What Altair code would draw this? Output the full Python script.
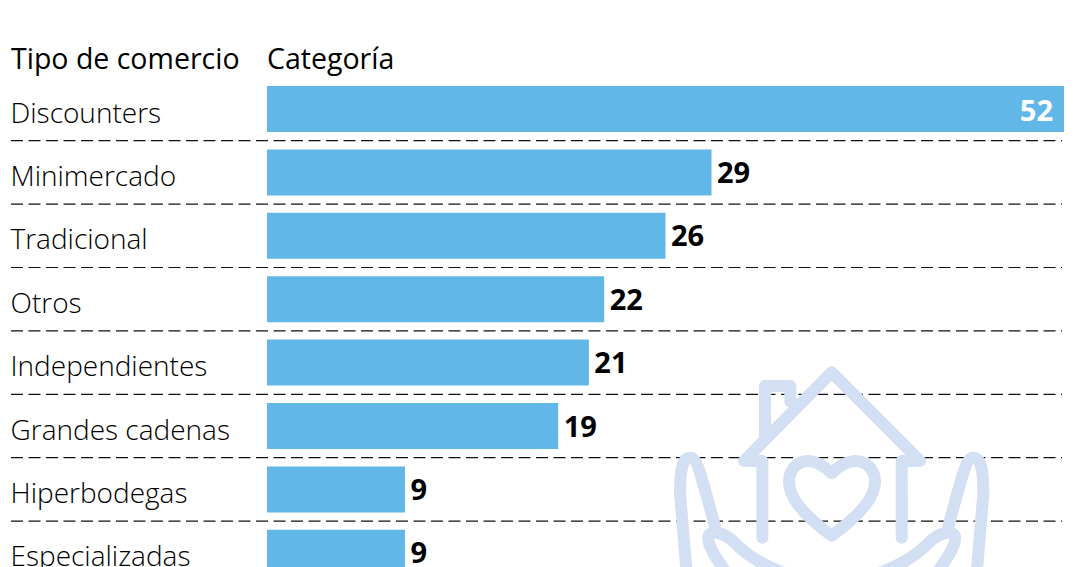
import altair as alt
import pandas as pd

tipos = ["Discounters", "Minimercado", "Tradicional", "Otros", "Independientes",
         "Grandes cadenas", "Hiperbodegas", "Especializadas"]
valores = [52, 29, 26, 22, 21, 19, 9, 9]
encabezados = ["Tipo de comercio", "Categoría"]

# icono de fondo (casa y manos)
icono = (
    "M-215,-57 L-263,-57 L0,-323 L265,-57 L210,-57 "
    "M-200,-120 L-200,-282 L-124,-282 L-124,-235 "
    "M-208,-57 L-208,173 M210,-57 L210,173 "
    "M0,-20 C-25,-45 -45,-57 -70,-57 C-105,-57 -128,-30 -128,5 "
    "C-128,60 -65,120 0,167 C65,120 130,60 130,5 "
    "C130,-30 105,-57 70,-57 C45,-57 25,-45 0,-20 Z "
    "M-435,280 L-455,40 C-455,-40 -445,-67 -425,-67 C-405,-67 -395,-30 -350,140 "
    "M-300,300 C-335,250 -375,200 -370,170 C-365,150 -330,155 -300,180 "
    "C-265,215 -235,240 -165,270 L-115,290 "
    "M300,300 C335,250 375,200 370,170 C365,150 330,155 300,180 "
    "C265,215 235,240 165,270 L115,290 "
    "M435,280 L455,40 C455,-40 445,-67 425,-67 C405,-67 395,-30 350,140"
)

df = pd.DataFrame({"tipo": tipos, "valor": valores})

alto_filas = 507.2
x_esc = alt.Scale(domain=[0, 52], range=[0, 797])
y_barras = alt.Scale(domain=tipos, range=[0, alto_filas], paddingInner=0.275, paddingOuter=0.1375)
y_filas = alt.Scale(domain=tipos, range=[0, alto_filas], paddingInner=0, paddingOuter=0)

barras = alt.Chart(df).mark_bar(color="#62b7e9", cornerRadius=0).encode(
    x=alt.X("valor:Q", scale=x_esc, axis=None),
    y=alt.Y(
        "tipo:N", scale=y_barras, sort=tipos, title=None,
        axis=alt.Axis(
            orient="left", domain=False, ticks=False, labelAlign="left",
            labelBaseline="alphabetic", labelPadding=257, labelOffset=13.5, labelLimit=0,
            labelFont="Open Sans", labelFontSize=28, labelFontWeight=300, labelColor="#000000",
        ),
    ),
)

lineas = alt.Chart(df.iloc[:7]).mark_rule(color="#111111", strokeWidth=1.2, strokeDash=[12, 5.5]).encode(
    x=alt.value(-256),
    x2=alt.value(795),
    y=alt.Y("tipo:N", scale=y_filas, bandPosition=1, axis=None),
)

fuente_num = dict(font="Open Sans", fontSize=29, fontWeight="bold", baseline="middle")

numeros = alt.Chart(df.iloc[1:]).mark_text(align="left", dx=5.5, dy=1.5, color="#000000", **fuente_num).encode(
    x=alt.X("valor:Q", scale=x_esc, axis=None),
    y=alt.Y("tipo:N", scale=y_barras, axis=None),
    text="valor:Q",
)

numero_top = alt.Chart(df.iloc[:1]).mark_text(align="right", dx=-11, dy=3, color="#ffffff", **fuente_num).encode(
    x=alt.X("valor:Q", scale=x_esc, axis=None),
    y=alt.Y("tipo:N", scale=y_barras, axis=None),
    text="valor:Q",
)

titulo_a = alt.Chart(pd.DataFrame({"t": encabezados[:1]})).mark_text(
    align="left", font="Open Sans", fontSize=28.5, color="#000000"
).encode(x=alt.value(-256), y=alt.value(-17.5), text="t:N")

titulo_b = alt.Chart(pd.DataFrame({"t": encabezados[1:]})).mark_text(
    align="left", font="Open Sans", fontSize=28.5, color="#000000"
).encode(x=alt.value(0), y=alt.value(-17.5), text="t:N")

marca = alt.Chart(pd.DataFrame({"a": [0]})).mark_point(
    shape=icono, size=4 / 9, filled=False, opacity=1, stroke="#d3dff2",
    strokeWidth=12, strokeCap="round", strokeJoin="round",
).encode(x=alt.value(564.7), y=alt.value(402.7))

chart = alt.layer(barras, lineas, marca, numeros, numero_top, titulo_a, titulo_b).resolve_scale(
    y="independent"
).properties(
    width=797,
    height=489.7,
    padding={"top": 69.3, "left": 259, "right": 8, "bottom": 0},
    autosize=alt.AutoSizeParams(type="none"),
).configure_view(stroke=None)

chart.save("out.html", embed_options={"renderer": "svg", "actions": False})
